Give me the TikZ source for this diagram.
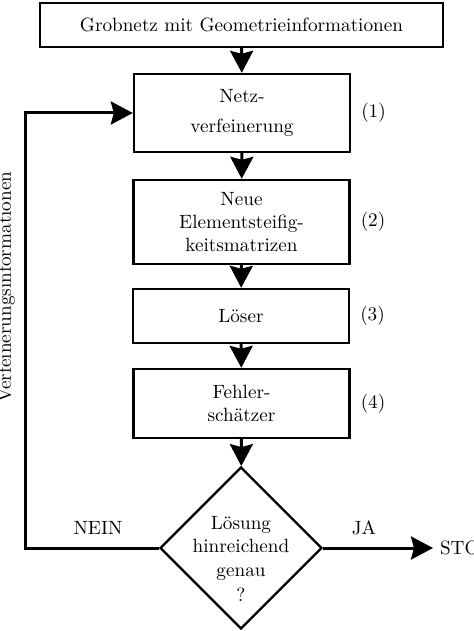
\documentclass[tikz,border=0pt]{standalone}
\usepackage{amsmath,amssymb}
\usepackage{tikz}
\usetikzlibrary{calc, positioning, shapes, arrows.meta}
\tikzstyle{every node}=[font=\fontsize{9.6pt}{11.6pt}\selectfont]
\tikzstyle{Box}=[rectangle, draw, line width=1.2pt, align=center, minimum width=108pt, inner sep=2pt]
\tikzstyle{Raute}=[diamond, draw, line width=1.2pt, minimum size=81pt, inner sep=0pt, aspect=1]
\tikzstyle{Pfeil}=[line width=1.5pt, -{Stealth[length=11pt, width=11.5pt, inset=1.5pt]}]

\begin{document}
\begin{tikzpicture}[x=0.5pt, y=-0.5pt]
			\clip (0, 0) rectangle (474, 631);
			\node[Box, minimum width=201.5pt, minimum height=22pt] (grob) at (241.5, 25) {Grobnetz mit Geometrieinformationen};
			\node[Box, minimum height=39pt] (netz) at (242, 113) {Netz-\\[3pt]verfeinerung};
			\node[Box, minimum height=42pt] (steif) at (241.5, 222) {Neue\\Elementsteifig-\\keitsmatrizen};
			\node[Box, minimum height=27pt] (loeser) at (241, 316) {L\"oser};
			\node[Box, minimum height=34.5pt] (fehler) at (241.5, 403.5) {Fehler-\\sch\"atzer};
			\node[Raute] (genau) at (241, 548) {};
			\node[align=center] (frage) at (241, 559) {L\"osung\\hinreichend\\genau\\[1pt]?};
			\node[right=1.5pt of netz] (n1) {(1)};
			\node[right=1.5pt of steif] (n2) {(2)};
			\node[right=1.5pt of loeser] (n3) {(3)};
			\node[right=1.5pt of fehler] (n4) {(4)};
			\node[anchor=west] (stop) at (433, 548) {STOP};
			\coordinate (links) at (25, 548);
			\path[draw, Pfeil] (grob) -- (netz);
			\path[draw, Pfeil] (netz) -- (steif);
			\path[draw, Pfeil] (steif) -- (loeser);
			\path[draw, Pfeil] (loeser) -- (fehler);
			\path[draw, Pfeil] (fehler) -- (genau);
			\path[draw, Pfeil] (genau.east) -- (stop);
			\path[draw, Pfeil] (genau.west) -- (links) |- (netz.west);
		
			\node (nein) at (98, 528) {NEIN};
			\node (ja) at (364, 528) {JA};
			\node[rotate=90] (info) at (6, 287) {Verfeinerungsinformationen};
		\end{tikzpicture}
\end{document}
